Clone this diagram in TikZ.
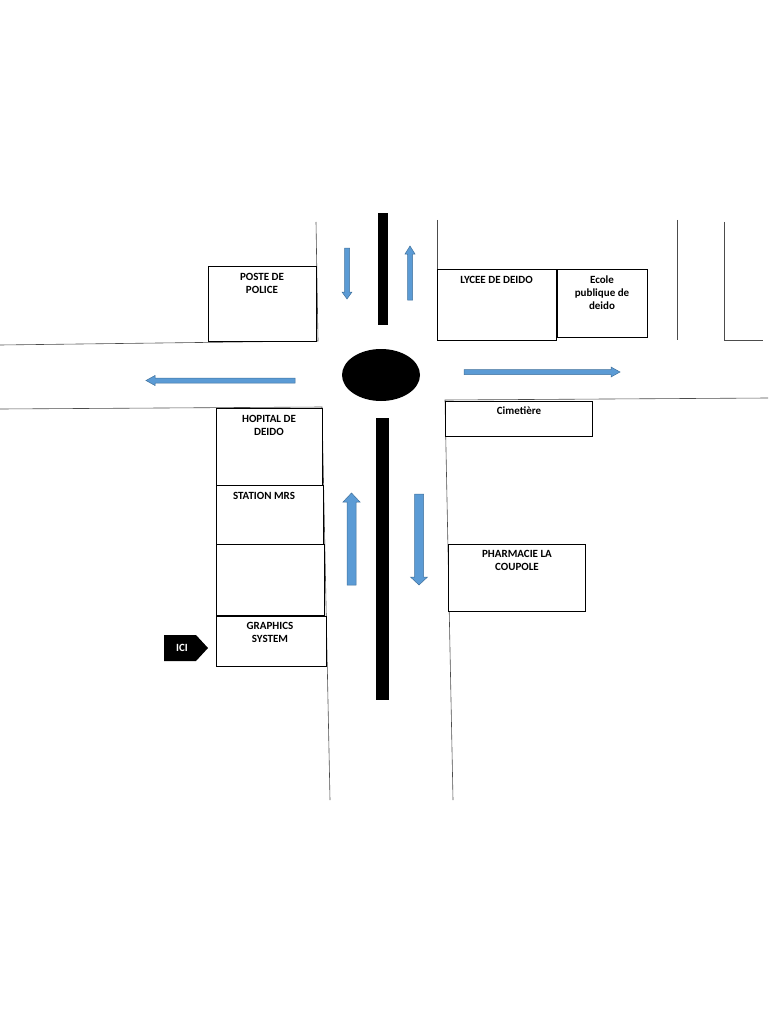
\documentclass[tikz,border=0pt]{standalone}
\usepackage{fontspec}
\setmainfont{Carlito}
\definecolor{arfill}{HTML}{5B9BD5}
\definecolor{arline}{HTML}{41719C}
\begin{document}
\begin{tikzpicture}[x=1pt,y=-1pt,
  road/.style={draw=black!70,line width=0.6pt},
  bldg/.style={draw=black,line width=0.7pt,fill=white},
  lbl/.style={font=\bfseries\fontsize{11}{13}\selectfont,align=center,anchor=north,inner sep=0pt},
  barr/.style={fill=arfill,draw=arline,line width=0.5pt}]
\useasboundingbox (0,0) rectangle (768,1024);
% roads
\draw[road] (0,345) -- (318,341) -- (316,222);
\draw[road] (437,220) -- (437,340);
\draw[road] (677,220) -- (677,340);
\draw[road] (724,222) -- (724,340) -- (763,340);
\draw[road] (0,409) -- (322,407) -- (330,800);
\draw[road] (768,398) -- (445,400) -- (453,800);
% centre
\fill (381,375) ellipse [x radius=39, y radius=26];
\fill (378,213) rectangle (388,325);
\fill (376,418) rectangle (389,700);
% arrows
\draw[barr] (344.5,248) -- (349.5,248) -- (349.5,292) -- (352,292) -- (347,299) -- (342,292) -- (344.5,292) -- cycle;
\draw[barr] (407.5,300) -- (412.5,300) -- (412.5,254) -- (415,254) -- (410,246) -- (405,254) -- (407.5,254) -- cycle;
\draw[barr] (295,378) -- (295,383) -- (155,383) -- (155,385.5) -- (146,380.5) -- (155,375.5) -- (155,378) -- cycle;
\draw[barr] (464,369.5) -- (464,374.5) -- (611,374.5) -- (611,377) -- (620,372) -- (611,367) -- (611,369.5) -- cycle;
\draw[barr] (347,585) -- (356,585) -- (356,502) -- (360,502) -- (351.5,493) -- (343,502) -- (347,502) -- cycle;
\draw[barr] (414.5,494) -- (423.5,494) -- (423.5,577) -- (427.5,577) -- (419,585) -- (410.5,577) -- (414.5,577) -- cycle;
% buildings
\draw[bldg] (208,266) rectangle (316,341);
\node[lbl] (poste) at (262,273) {POSTE DE\\POLICE};
\draw[bldg] (437,269) rectangle (556,340);
\node[lbl] (lycee) at (496.5,276) {LYCEE DE DEIDO};
\draw[bldg] (557,269) rectangle (647,337);
\node[lbl] (ecole) at (602,276) {Ecole\\publique de\\deido};
\draw[bldg] (445,401) rectangle (592,436);
\node[lbl] (cim) at (519,407) {Cimetière};
\draw[bldg] (216,408) rectangle (322,485);
\node[lbl] (hop) at (269,415) {HOPITAL DE\\DEIDO};
\draw[bldg] (216,485) rectangle (323,544);
\node[lbl] (stat) at (264,492) {STATION MRS};
\draw[bldg] (216,544) rectangle (324,615);
\draw[bldg] (216,616) rectangle (326,666);
\node[lbl] (gs) at (270,622) {GRAPHICS\\SYSTEM};
\draw[bldg] (448,544) rectangle (585,611);
\node[lbl] (ph) at (517,550) {PHARMACIE LA\\COUPOLE};
% ICI
\fill (164,635) -- (196,635) -- (208,648) -- (196,661) -- (164,661) -- cycle;
\node[font=\bfseries\fontsize{11}{13}\selectfont,text=white] (ici) at (182,648) {ICI};
\end{tikzpicture}
\end{document}
